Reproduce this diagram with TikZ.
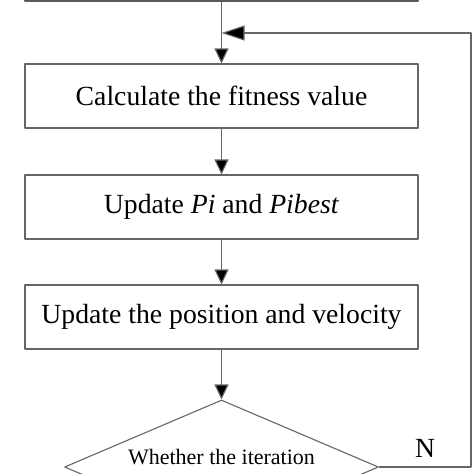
\documentclass[tikz,border=0pt]{standalone}
\usepackage{fontspec}
\setmainfont{Liberation Serif}
\usetikzlibrary{arrows.meta,shapes.geometric}
\begin{document}
\begin{tikzpicture}[x=1pt,y=-1pt,line join=round,
	stepbox/.style={draw=black!60,line width=1.1pt,rectangle,minimum width=393pt,minimum height=64pt,inner sep=0pt,font=\fontsize{27.7}{33}\selectfont},
	judge/.style={draw=black!60,line width=1.1pt,diamond,minimum width=314pt,minimum height=134pt,inner sep=0pt},
	flow/.style={draw=black!60,line width=1.1pt,-{Triangle[length=15pt,width=14pt,fill=black]}},
	back/.style={draw=black!60,line width=1.1pt,-{Triangle[length=23pt,width=15pt,fill=black]}}]
	\useasboundingbox (0,0) rectangle (474,474);
	\clip (0,0) rectangle (474,474);
	% Các khối
	\node[stepbox,line width=2.6pt,draw=black!65] (init) at (221.5,-31) {};
	\node[stepbox] (fit) at (221.5,96) {Calculate the fitness value};
	\node[stepbox] (best) at (221.5,207) {Update \textit{Pi} and \textit{Pibest}};
	\node[stepbox] (move) at (221.5,317) {Update the position and velocity};
	\node[judge] (stop) at (221.5,467) {};
	\node[align=center,font=\fontsize{22}{26}\selectfont] (stoptext) at (221.5,470) {Whether the iteration\\meets the termination conditions};
	\coordinate (join) at (221.5,33);
	\coordinate (c1) at (471,467);
	\coordinate (c2) at (471,33);
	% Mũi tên
	\draw[flow] (init.south) -- (fit.north);
	\draw[flow] (fit.south) -- (best.north);
	\draw[flow] (best.south) -- (move.north);
	\draw[flow] (move.south) -- (stop.north);
	\draw[back] (stop.east) -- (c1) -- (c2) -- (join);
	\node[font=\fontsize{27.7}{33}\selectfont] (no) at (425,448) {N};
\end{tikzpicture}
\end{document}
